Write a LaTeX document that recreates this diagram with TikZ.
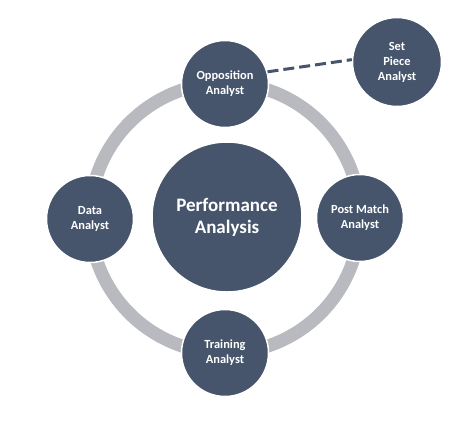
\documentclass[tikz,border=0pt]{standalone}
\usepackage{fontspec}
\setmainfont{Carlito}
\usepackage{tikz}
\definecolor{slate}{RGB}{70,85,108}
\definecolor{ringgray}{RGB}{184,186,191}
\tikzset{
  role/.style={circle, fill=slate, draw=white, line width=1.5pt, text=white,
    inner sep=0pt, minimum size=87pt, align=center,
    font=\fontsize{12.4}{15}\selectfont\bfseries},
  hub/.style={role, minimum size=150pt, font=\fontsize{19}{22}\selectfont\bfseries},
  ring/.style={ringgray, line width=13pt}
}
\begin{document}
\begin{tikzpicture}[x=1pt,y=-1pt]
      \useasboundingbox (0,0) rectangle (474,432);
      % Ring
      \draw[ring] (225,218) circle [radius=135];
      % Center
      \node[hub] (perf) at (227,217) {Performance\\Analysis};
      % Roles on the ring
      \node[role] (opp) at (225,84) {Opposition\\Analyst};
      \node[role] (post) at (360,218) {Post Match\\Analyst};
      \node[role] (train) at (225,353) {Training\\Analyst};
      \node[role] (data) at (90,219) {Data\\Analyst};
      % Outside the ring
      \node[role, minimum size=89pt] (set) at (397,62) {Set\\Piece\\Analyst};
      \draw[slate, line width=3pt, dash pattern=on 11pt off 5pt] (opp.16) -- (set.177);
\end{tikzpicture}
\end{document}
